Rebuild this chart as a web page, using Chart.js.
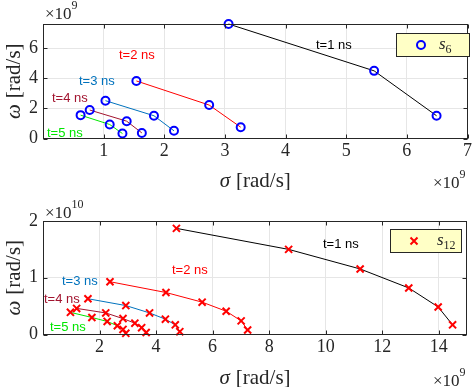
<!DOCTYPE html>
<html>
<head>
<meta charset="utf-8">
<script src="https://cdn.jsdelivr.net/npm/chart.js@4.4.1/dist/chart.umd.min.js"></script>
<style>
body { margin: 0; background: #fff; }
#wrap { position: relative; width: 474px; height: 387px; overflow: hidden; }
canvas { position: absolute; left: 0; }
#top { top: 0; }
#bottom { top: 190px; }
</style>
</head>
<body>
<div id="wrap">
<canvas id="top" width="474" height="190"></canvas>
<canvas id="bottom" width="474" height="197"></canvas>
</div>
<script>
// sigma in 1e9 rad/s, omega in 1e9 (s6) and 1e10 (s12)
var timeLabels = ["t=1 ns", "t=2 ns", "t=3 ns", "t=4 ns", "t=5 ns"];
var lineColors = ["#000000", "#ff0000", "#0072bd", "#a2142f", "#00e600"];

// s6 trajectories
var s6SigmaT1 = [3.06, 5.46, 6.49];
var s6OmegaT1 = [7.6, 4.49, 1.51];
var s6SigmaT2 = [1.54, 2.74, 3.26];
var s6OmegaT2 = [3.82, 2.22, 0.75];
var s6SigmaT3 = [1.03, 1.83, 2.16];
var s6OmegaT3 = [2.51, 1.51, 0.51];
var s6SigmaT4 = [0.77, 1.38, 1.63];
var s6OmegaT4 = [1.89, 1.15, 0.37];
var s6SigmaT5 = [0.62, 1.10, 1.31];
var s6OmegaT5 = [1.55, 0.93, 0.33];

// s12 trajectories
var s12SigmaT1 = [4.72, 8.69, 11.22, 12.94, 13.98, 14.49];
var s12OmegaT1 = [1.87, 1.50, 1.155, 0.82, 0.485, 0.17];
var s12SigmaT2 = [2.37, 4.35, 5.63, 6.48, 7.01, 7.24];
var s12OmegaT2 = [0.93, 0.74, 0.57, 0.41, 0.24, 0.08];
var s12SigmaT3 = [1.59, 2.93, 3.77, 4.33, 4.68, 4.84];
var s12OmegaT3 = [0.63, 0.51, 0.38, 0.27, 0.17, 0.05];
var s12SigmaT4 = [1.19, 2.22, 2.83, 3.25, 3.49, 3.65];
var s12OmegaT4 = [0.46, 0.38, 0.28, 0.20, 0.12, 0.035];
var s12SigmaT5 = [0.97, 1.73, 2.27, 2.63, 2.83, 2.93];
var s12OmegaT5 = [0.39, 0.30, 0.23, 0.155, 0.09, 0.02];

var topXTicks = [1, 2, 3, 4, 5, 6, 7];
var topYTicks = [0, 2, 4, 6];
var bottomXTicks = [2, 4, 6, 8, 10, 12, 14];
var bottomYTicks = [0, 1, 2];

var serif = '"Liberation Serif", "Times New Roman", serif';
var sans = '"Liberation Sans", Arial, sans-serif';
var axisColor = "#262626";

function toPoints(xs, ys) {
    return xs.map(function (x, i) { return { x: x, y: ys[i] }; });
}

function makeDataset(xs, ys, idx, marker) {
    return {
        data: toPoints(xs, ys),
        showLine: true,
        borderColor: lineColors[idx],
        borderWidth: 1,
        backgroundColor: "rgba(0,0,0,0)",
        pointStyle: marker.style,
        pointRadius: marker.radius,
        pointBorderWidth: 2,
        pointBorderColor: marker.color,
        pointBackgroundColor: "rgba(0,0,0,0)",
        clip: false
    };
}

// draw text in pieces with different fonts
function drawParts(ctx, parts, x, y, align) {
    var total = 0;
    parts.forEach(function (p) {
        ctx.font = p.font;
        total += ctx.measureText(p.text).width + (p.gap || 0);
    });
    var cx = align === "center" ? x - total / 2 : x;
    parts.forEach(function (p) {
        ctx.font = p.font;
        ctx.fillText(p.text, cx, y + (p.dy || 0));
        cx += ctx.measureText(p.text).width + (p.gap || 0);
    });
}

function times10(ctx, x, y, exp) {
    ctx.fillStyle = axisColor;
    ctx.textBaseline = "alphabetic";
    ctx.textAlign = "left";
    drawParts(ctx, [
        { text: "\u00d710", font: "17px " + serif },
        { text: exp, font: "12px " + serif, dy: -10 }
    ], x, y, "left");
}

var decorPlugin = {
    id: "decor",
    afterDraw: function (chart) {
        var o = chart.options.plugins.decor;
        var ctx = chart.ctx;
        var a = chart.chartArea;
        var xs = chart.scales.x, ys = chart.scales.y;
        ctx.save();

        // box and inward ticks
        ctx.strokeStyle = axisColor;
        ctx.lineWidth = 1;
        var L = Math.round(a.left) + 0.5, R = Math.round(a.right) - 0.5;
        var T = Math.round(a.top) + 0.5, B = Math.round(a.bottom) - 0.5;
        ctx.strokeRect(L, T, R - L, B - T);
        ctx.beginPath();
        o.xTicks.forEach(function (v) {
            var px = Math.round(xs.getPixelForValue(v)) + 0.5;
            ctx.moveTo(px, B); ctx.lineTo(px, B - 4);
            ctx.moveTo(px, T); ctx.lineTo(px, T + 4);
        });
        o.yTicks.forEach(function (v) {
            var py = Math.round(ys.getPixelForValue(v)) + 0.5;
            ctx.moveTo(L, py); ctx.lineTo(L + 4, py);
            ctx.moveTo(R, py); ctx.lineTo(R - 4, py);
        });
        ctx.stroke();

        // time labels
        ctx.font = "13px " + sans;
        ctx.textAlign = "left";
        ctx.textBaseline = "middle";
        o.labelPos.forEach(function (p, i) {
            ctx.fillStyle = lineColors[i];
            ctx.fillText(timeLabels[i], p[0], p[1]);
        });

        // legend box
        var lg = o.legend;
        ctx.fillStyle = "#ffffc6";
        ctx.fillRect(lg.x, lg.y, lg.w, lg.h);
        ctx.strokeStyle = axisColor;
        ctx.strokeRect(lg.x + 0.5, lg.y + 0.5, lg.w - 1, lg.h - 1);
        var my = lg.y + lg.h / 2;
        ctx.lineWidth = 2;
        if (lg.marker === "circle") {
            ctx.strokeStyle = "#0000ff";
            ctx.beginPath();
            ctx.arc(lg.mx, my, 4, 0, Math.PI * 2);
            ctx.stroke();
        } else {
            ctx.strokeStyle = "#ff0000";
            ctx.beginPath();
            ctx.moveTo(lg.mx - 3.5, my - 3.5); ctx.lineTo(lg.mx + 3.5, my + 3.5);
            ctx.moveTo(lg.mx - 3.5, my + 3.5); ctx.lineTo(lg.mx + 3.5, my - 3.5);
            ctx.stroke();
        }
        ctx.fillStyle = axisColor;
        ctx.textBaseline = "alphabetic";
        drawParts(ctx, [
            { text: "s", font: "italic 17px " + serif },
            { text: lg.sub, font: "12px " + serif, dy: 4 }
        ], lg.tx, my + 4, "left");

        // exponents
        times10(ctx, 45, o.yExpBase, o.yExp);
        times10(ctx, 433, o.xExpBase, "9");

        // axis titles
        ctx.fillStyle = axisColor;
        ctx.textBaseline = "middle";
        drawParts(ctx, [
            { text: "\u03c3", font: "italic 21px " + serif, gap: 6 },
            { text: "[rad/s]", font: "21px " + serif }
        ], (a.left + a.right) / 2, o.xTitleY, "center");
        ctx.translate(14, (a.top + a.bottom) / 2);
        ctx.rotate(-Math.PI / 2);
        drawParts(ctx, [
            { text: "\u03c9", font: "italic 21px " + serif, gap: 6 },
            { text: "[rad/s]", font: "21px " + serif }
        ], 0, 0, "center");
        ctx.restore();
    }
};

function scalesFor(xMax, yMax, xTicks, yTicks, xHeight) {
    var tickFont = { family: serif, size: 18 };
    return {
        x: {
            type: "linear",
            min: 0,
            max: xMax,
            afterBuildTicks: function (scale) {
                scale.ticks = xTicks.map(function (v) { return { value: v }; });
            },
            afterFit: function (scale) { scale.height = xHeight; },
            grid: { color: "#e6e6e6", drawTicks: false },
            border: { display: false },
            ticks: { font: tickFont, color: axisColor, padding: 2, autoSkip: false, maxRotation: 0 }
        },
        y: {
            type: "linear",
            min: 0,
            max: yMax,
            afterBuildTicks: function (scale) {
                scale.ticks = yTicks.map(function (v) { return { value: v }; });
            },
            afterFit: function (scale) { scale.width = 43; },
            grid: { color: "#e6e6e6", drawTicks: false },
            border: { display: false },
            ticks: { font: tickFont, color: axisColor, padding: 5, autoSkip: false }
        }
    };
}

var circle = { style: "circle", radius: 4, color: "#0000ff" };
var cross = { style: "crossRot", radius: 5, color: "#ff0000" };

var topChart = new Chart(document.getElementById("top"), {
    type: "scatter",
    data: {
        datasets: [
            makeDataset(s6SigmaT1, s6OmegaT1, 0, circle),
            makeDataset(s6SigmaT2, s6OmegaT2, 1, circle),
            makeDataset(s6SigmaT3, s6OmegaT3, 2, circle),
            makeDataset(s6SigmaT4, s6OmegaT4, 3, circle),
            makeDataset(s6SigmaT5, s6OmegaT5, 4, circle)
        ]
    },
    options: {
        responsive: false,
        animation: false,
        layout: { padding: { top: 24, right: 2, left: 0, bottom: 0 } },
        scales: scalesFor(7, 7.6, topXTicks, topYTicks, 51.5),
        plugins: {
            legend: { display: false },
            tooltip: { enabled: false },
            decor: {
                xTicks: topXTicks, yTicks: topYTicks,
                labelPos: [[316, 45], [119, 55], [79, 81], [52, 98], [47, 133]],
                legend: { x: 396, y: 33, w: 74, h: 24, mx: 421, tx: 439, marker: "circle", sub: "6" },
                yExp: "9", yExpBase: 19, xExpBase: 188,
                xTitleY: 181
            }
        }
    },
    plugins: [decorPlugin]
});

var bottomChart = new Chart(document.getElementById("bottom"), {
    type: "scatter",
    data: {
        datasets: [
            makeDataset(s12SigmaT1, s12OmegaT1, 0, cross),
            makeDataset(s12SigmaT2, s12OmegaT2, 1, cross),
            makeDataset(s12SigmaT3, s12OmegaT3, 2, cross),
            makeDataset(s12SigmaT4, s12OmegaT4, 3, cross),
            makeDataset(s12SigmaT5, s12OmegaT5, 4, cross)
        ]
    },
    options: {
        responsive: false,
        animation: false,
        layout: { padding: { top: 31, right: 2.5, left: 0, bottom: 0 } },
        scales: scalesFor(15, 2, bottomXTicks, bottomYTicks, 52.5),
        plugins: {
            legend: { display: false },
            tooltip: { enabled: false },
            decor: {
                xTicks: bottomXTicks, yTicks: bottomYTicks,
                labelPos: [[323, 54], [172, 80], [62, 91], [44, 109], [50, 137]],
                legend: { x: 390, y: 39, w: 72, h: 24, mx: 414, tx: 437, marker: "cross", sub: "12" },
                yExp: "10", yExpBase: 28, xExpBase: 196,
                xTitleY: 188
            }
        }
    },
    plugins: [decorPlugin]
});
</script>
</body>
</html>
